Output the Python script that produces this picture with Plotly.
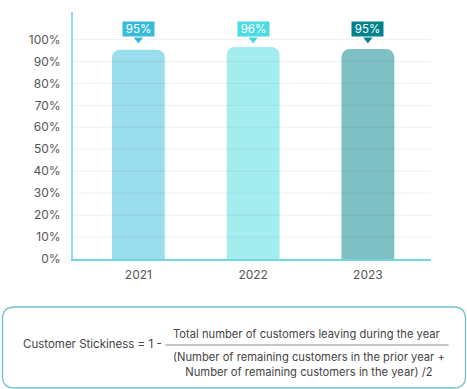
import plotly.graph_objects as go

# ---- data ----
years = ["2021", "2022", "2023"]
stickiness = [95.3, 96.6, 95.6]
value_labels = ["95%", "96%", "95%"]
label_colors = ["#36BCDA", "#4ADCE0", "#00828A"]
bar_colors = ["rgba(54,188,218,0.5)", "rgba(74,220,224,0.5)", "rgba(0,130,138,0.5)"]
y_ticks = [0, 10, 20, 30, 40, 50, 60, 70, 80, 90, 100]
y_tick_text = [f"{v}%" for v in y_ticks]
formula_left = "Customer Stickiness = 1 -"
numerator = "Total number of customers leaving during the year"
denominator = "(Number of remaining customers in the prior year +<br>Number of remaining customers in the year) /2"

# ---- layout geometry ----
W, H = 467, 389
ML, MR, MT, MB = 73, 36, 12, 130
PW, PH = W - ML - MR, H - MT - MB


def px(x):
    return (x - ML) / PW


def py(y):
    return (H - MB - y) / PH


FONT = "Inter, Roboto, sans-serif"

fig = go.Figure()
fig.add_trace(go.Bar(
    x=years, y=stickiness, marker=dict(color=bar_colors, line=dict(width=0), cornerradius=8),
    width=0.46, hoverinfo="skip", showlegend=False,
))
# pointer triangles under value labels
fig.add_trace(go.Scatter(
    x=years, y=[100] * len(years), mode="markers",
    marker=dict(symbol="triangle-down", size=8, color=label_colors),
    hoverinfo="skip", showlegend=False, cliponaxis=False,
))

shapes = []
# gridlines above bars
for v in y_ticks[1:]:
    shapes.append(dict(type="line", xref="paper", yref="y", x0=0, x1=1, y0=v, y1=v,
                       line=dict(color="rgba(0,60,80,0.075)", width=1), layer="above"))

annotations = []
for i, (lab, c) in enumerate(zip(value_labels, label_colors)):
    annotations.append(dict(x=i, y=100, xref="x", yref="y", text=lab, showarrow=False,
                            yanchor="bottom", yshift=2.5, bgcolor=c, width=31,
                            borderpad=0, font=dict(family=FONT, size=11.5, color="white")))

# formula box
x0, x1, y0, y1, r = 2.5, 465.5, 307, 388, 12
path = (f"M {px(x0 + r)},{py(y0)} L {px(x1 - r)},{py(y0)} Q {px(x1)},{py(y0)} {px(x1)},{py(y0 + r)} "
        f"L {px(x1)},{py(y1 - r)} Q {px(x1)},{py(y1)} {px(x1 - r)},{py(y1)} "
        f"L {px(x0 + r)},{py(y1)} Q {px(x0)},{py(y1)} {px(x0)},{py(y1 - r)} "
        f"L {px(x0)},{py(y0 + r)} Q {px(x0)},{py(y0)} {px(x0 + r)},{py(y0)} Z")
shapes.append(dict(type="path", xref="paper", yref="paper", path=path,
                   line=dict(color="#72C3C9", width=1.3)))
shapes.append(dict(type="line", xref="paper", yref="paper", x0=px(165.5), x1=px(448.5),
                   y0=py(345), y1=py(345), line=dict(color="#8a8a8a", width=1)))

tf = dict(family=FONT, size=11.2, color="#444444")
annotations.append(dict(x=px(20.5), y=py(343.5), xref="paper", yref="paper", text=formula_left,
                        showarrow=False, xanchor="left", yanchor="middle",
                        font=dict(family=FONT, size=11.5, color="#444444")))
annotations.append(dict(x=px(306), y=py(333.5), xref="paper", yref="paper", text=numerator,
                        showarrow=False, xanchor="center", yanchor="middle", font=tf))
annotations.append(dict(x=px(308.5), y=py(364.5), xref="paper", yref="paper", text=denominator,
                        showarrow=False, xanchor="center", yanchor="middle", align="center", font=tf))

fig.update_layout(
    width=W, height=H, margin=dict(l=ML, r=MR, t=MT, b=MB),
    paper_bgcolor="white", plot_bgcolor="white",
    font=dict(family=FONT, size=12, color="#555555"),
    shapes=shapes, annotations=annotations, bargap=0.54,
    xaxis=dict(type="category", range=[-0.57, 2.55], showgrid=False, showline=True,
               linecolor="#74D6E2", linewidth=2, ticks="", ticklabelstandoff=4,
               tickfont=dict(family=FONT, size=12, color="#555555"), zeroline=False),
    yaxis=dict(range=[0, 112.5], tickvals=y_ticks, ticktext=y_tick_text, showgrid=False,
               showline=True, linecolor="#8EDDEA", linewidth=2, ticks="", ticklabelstandoff=8,
               tickfont=dict(family=FONT, size=12, color="#555555"), zeroline=False),
)

fig.write_html("out.html", config={"displayModeBar": False},
               post_script="document.body.style.margin='0';document.body.style.overflow='hidden';")
